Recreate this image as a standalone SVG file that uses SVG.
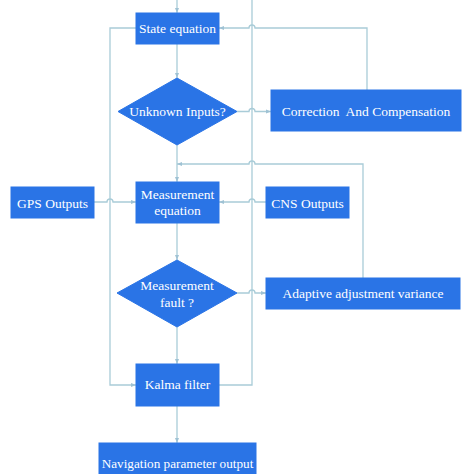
<svg xmlns="http://www.w3.org/2000/svg" width="474" height="474" viewBox="0 0 474 474">
<defs>
<marker id="arr" viewBox="0 0 10 10" refX="10" refY="5" markerWidth="5" markerHeight="5" orient="auto" markerUnits="userSpaceOnUse">
<path d="M0,1 L10,5 L0,9 Z" fill="#9fc2d4"/>
</marker>
<style>
.box{fill:#2a74e6;stroke:#2a74e6;}
.t{font-family:"Liberation Serif","Times New Roman",serif;font-size:13.5px;fill:#ffffff;text-anchor:middle;dominant-baseline:central;}
.c{fill:none;stroke:#a9ccd8;stroke-width:1.3;}
.a{marker-end:url(#arr);}
</style>
</defs>
<rect width="474" height="474" fill="#ffffff"/>
<g id="connectors">
<path class="c a" d="M177,0 V13"/>
<path class="c" d="M219,385 H252 V0"/>
<path class="c a" d="M136,28 H110 V385 H136"/>
<path class="c a" d="M367,90 V28 H255 a3,3 0 0 0 -6,0 H219"/>
<path class="c a" d="M177,44 V78"/>
<path class="c a" d="M237,111.5 H249 a3,3 0 0 1 6,0 H271"/>
<path class="c a" d="M177,145 V182"/>
<path class="c a" d="M363,278 V164 H255 a3,3 0 0 0 -6,0 H177"/>
<path class="c a" d="M94,202 H107 a3,3 0 0 1 6,0 H136"/>
<path class="c a" d="M266,202 H255 a3,3 0 0 0 -6,0 H219"/>
<path class="c a" d="M177,223 V260"/>
<path class="c a" d="M237,293 H249 a3,3 0 0 1 6,0 H266"/>
<path class="c a" d="M177,327 V364"/>
<path class="c a" d="M177,406 V443"/>
</g>
<g id="state-equation">
<rect class="box" x="136" y="13" width="83" height="31"/>
<text class="t" x="177.5" y="28.5">State equation</text>
</g>
<g id="unknown-inputs">
<polygon class="box" points="177,78 237,111.5 177,145 118,111.5"/>
<text class="t" x="177.5" y="111.5">Unknown Inputs?</text>
</g>
<g id="correction">
<rect class="box" x="271" y="90" width="190" height="41"/>
<text class="t" x="366" y="111" xml:space="preserve">Correction  And Compensation</text>
</g>
<g id="gps-outputs">
<rect class="box" x="11" y="187" width="83" height="31"/>
<text class="t" x="52.5" y="203">GPS Outputs</text>
</g>
<g id="measurement-equation">
<rect class="box" x="136" y="182" width="83" height="41"/>
<text class="t" x="177.5" y="194">Measurement</text>
<text class="t" x="177.5" y="210">equation</text>
</g>
<g id="cns-outputs">
<rect class="box" x="266" y="187" width="83" height="31"/>
<text class="t" x="307.5" y="203">CNS Outputs</text>
</g>
<g id="measurement-fault">
<polygon class="box" points="177,260 237,293 177,327 117,293"/>
<text class="t" x="177" y="285">Measurement</text>
<text class="t" x="177" y="302">fault ?</text>
</g>
<g id="adaptive">
<rect class="box" x="266" y="278" width="194" height="31"/>
<text class="t" x="363" y="293.5">Adaptive adjustment variance</text>
</g>
<g id="kalma-filter">
<rect class="box" x="136" y="364" width="83" height="42"/>
<text class="t" x="177.5" y="384.5">Kalma filter</text>
</g>
<g id="navigation-output">
<rect class="box" x="99" y="443" width="157" height="40"/>
<text class="t" x="177.5" y="463" style="font-size:13.2px">Navigation parameter output</text>
</g>
</svg>
